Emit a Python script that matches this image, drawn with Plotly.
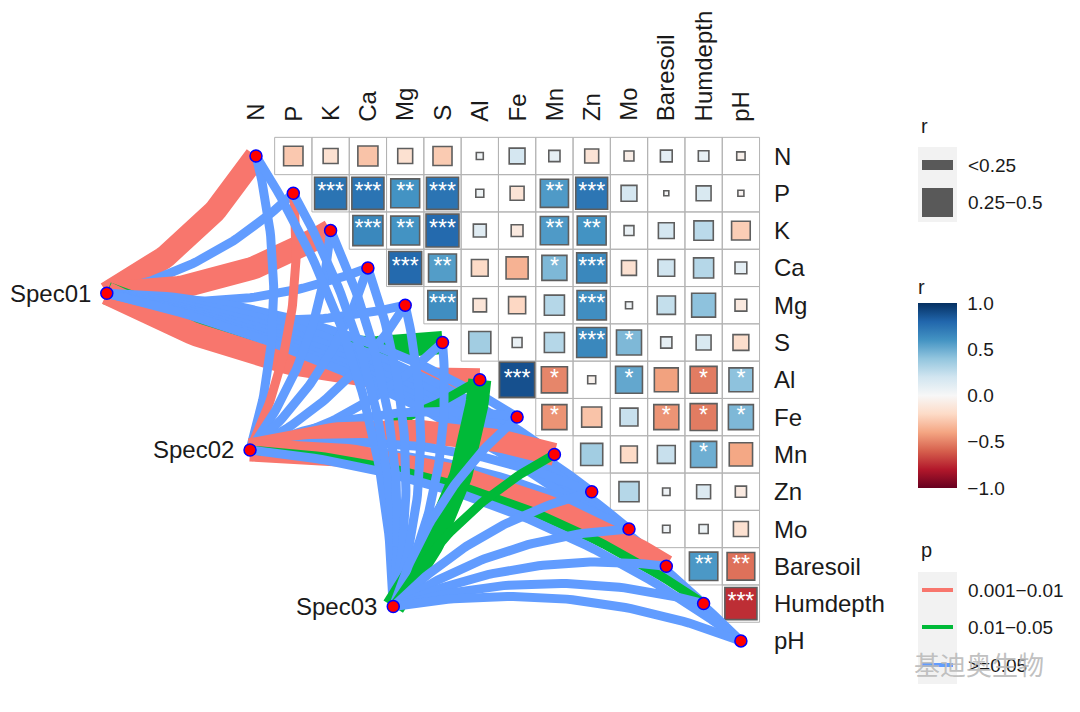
import numpy as np
import plotly.graph_objects as go

# ---------------- data ----------------
env_names = ["N", "P", "K", "Ca", "Mg", "S", "Al", "Fe", "Mn", "Zn", "Mo",
             "Baresoil", "Humdepth", "pH"]
spec_names = ["Spec01", "Spec02", "Spec03"]

# upper-triangle correlations: each row lists r with the variables after it
r_N = [-0.27, -0.16, -0.29, -0.16, -0.26, 0.035, 0.18, 0.09, -0.14, -0.07, 0.10, 0.08, -0.05]
r_P = [0.74, 0.74, 0.60, 0.74, 0.046, -0.14, 0.57, 0.73, 0.18, 0.018, 0.16, -0.026]
r_K = [0.65, 0.60, 0.78, 0.12, -0.10, 0.57, 0.60, 0.07, 0.18, 0.27, -0.25]
r_Ca = [0.78, 0.56, -0.20, -0.35, 0.45, 0.65, -0.16, 0.20, 0.29, 0.10]
r_Mg = [0.62, -0.13, -0.21, 0.29, 0.62, 0.035, 0.24, 0.41, -0.10]
r_S = [0.35, 0.07, 0.29, 0.65, 0.45, 0.09, 0.16, -0.18]
r_Al = [0.88, -0.49, -0.046, 0.52, -0.41, -0.52, 0.41]
r_Fe = [-0.45, -0.29, 0.23, -0.45, -0.52, 0.45]
r_Mn = [0.35, -0.20, 0.23, 0.49, -0.39]
r_Zn = [0.29, 0.04, 0.14, -0.09]
r_Mo = [0.04, 0.06, -0.16]
r_Baresoil = [0.58, -0.55]
r_Humdepth = [-0.74]

s_N = [""] * 13
s_P = ["***", "***", "**", "***", "", "", "**", "***", "", "", "", ""]
s_K = ["***", "**", "***", "", "", "**", "**", "", "", "", ""]
s_Ca = ["***", "**", "", "", "*", "***", "", "", "", ""]
s_Mg = ["***", "", "", "", "***", "", "", "", ""]
s_S = ["", "", "", "***", "*", "", "", ""]
s_Al = ["***", "*", "", "*", "", "*", "*"]
s_Fe = ["*", "", "", "*", "*", "*"]
s_Mn = ["", "", "", "*", ""]
s_Zn = ["", "", "", ""]
s_Mo = ["", "", ""]
s_Baresoil = ["**", "**"]
s_Humdepth = ["***"]

corr_rows = [r_N, r_P, r_K, r_Ca, r_Mg, r_S, r_Al, r_Fe, r_Mn, r_Zn, r_Mo, r_Baresoil, r_Humdepth]
star_rows = [s_N, s_P, s_K, s_Ca, s_Mg, s_S, s_Al, s_Fe, s_Mn, s_Zn, s_Mo, s_Baresoil, s_Humdepth]

# Mantel test classes (one entry per env variable)
p_Spec01 = ["0.001-0.01", ">=0.05", "0.001-0.01", ">=0.05", ">=0.05", "0.01-0.05", "0.001-0.01",
            ">=0.05", ">=0.05", ">=0.05", ">=0.05", ">=0.05", ">=0.05", ">=0.05"]
rc_Spec01 = ["0.25-0.5", "<0.25", "0.25-0.5", "<0.25", "<0.25", "0.25-0.5", "0.25-0.5",
             "<0.25", "<0.25", "<0.25", "<0.25", "<0.25", "<0.25", "<0.25"]
p_Spec02 = [">=0.05", "0.001-0.01", ">=0.05", ">=0.05", ">=0.05", ">=0.05", "0.01-0.05",
            ">=0.05", "0.001-0.01", ">=0.05", ">=0.05", "0.001-0.01", "0.01-0.05", ">=0.05"]
rc_Spec02 = ["<0.25", "<0.25", "<0.25", "<0.25", "<0.25", "<0.25", "<0.25",
             "<0.25", "0.25-0.5", "<0.25", "<0.25", "0.25-0.5", "<0.25", "<0.25"]
p_Spec03 = [">=0.05", ">=0.05", ">=0.05", ">=0.05", ">=0.05", ">=0.05", "0.01-0.05",
            ">=0.05", "0.01-0.05", ">=0.05", ">=0.05", ">=0.05", ">=0.05", ">=0.05"]
rc_Spec03 = ["<0.25", "<0.25", "<0.25", "<0.25", "<0.25", "<0.25", "0.25-0.5",
             "<0.25", "<0.25", "<0.25", "<0.25", "<0.25", "<0.25", "<0.25"]
mantel_p = [p_Spec01, p_Spec02, p_Spec03]
mantel_r = [rc_Spec01, rc_Spec02, rc_Spec03]

# ---------------- style / layout ----------------
W, H = 1080, 712
SHIFT = 8                      # page body margin compensation
PX = 37.3                      # pixels per cell
X0, Y0 = 256 - SHIFT, 156 - SHIFT   # pixel position of the first diagonal cell
FONT = "Liberation Sans, Arial, sans-serif"
rdbu = ['#67001F', '#B2182B', '#D6604D', '#F4A582', '#FDDBC7', '#F7F7F7',
        '#D1E5F0', '#92C5DE', '#4393C3', '#2166AC', '#053061']
p_colors = {"0.001-0.01": "#F8766D", "0.01-0.05": "#00BA38", ">=0.05": "#619CFF"}
r_widths = {"<0.25": 9, "0.25-0.5": 23}
CURV = 0.14
spec_start = (-4.0, 3.68)
spec_end = (3.68, 12.08)


def hex2rgb(h):
    h = h.lstrip('#')
    return np.array([int(h[k:k + 2], 16) for k in (0, 2, 4)], dtype=float)


def rcolor(v):
    pos = (v + 1) / 2 * (len(rdbu) - 1)
    i = int(np.clip(np.floor(pos), 0, len(rdbu) - 2))
    f = pos - i
    c = hex2rgb(rdbu[i]) * (1 - f) + hex2rgb(rdbu[i + 1]) * f
    return "rgb(%d,%d,%d)" % tuple(np.round(c))


n = len(env_names)
fig = go.Figure()
shapes = []
annotations = []

# grid + squares
sq_x, sq_y, sq_r, sq_txt = [], [], [], []
for i, (row, srow) in enumerate(zip(corr_rows, star_rows)):
    for k, (v, st) in enumerate(zip(row, srow)):
        j = i + 1 + k
        shapes.append(dict(type="rect", xref="x", yref="y", x0=j - 0.5, x1=j + 0.5,
                           y0=i - 0.5, y1=i + 0.5, line=dict(color="#B3B3B3", width=1),
                           fillcolor="rgba(0,0,0,0)", layer="below"))
        sq_x.append(j); sq_y.append(i); sq_r.append(v); sq_txt.append(st)
for j, i, v in zip(sq_x, sq_y, sq_r):
    s = np.sqrt(abs(v)) / 2
    shapes.append(dict(type="rect", xref="x", yref="y", x0=j - s, x1=j + s,
                       y0=i - s, y1=i + s, line=dict(color="#5E5E5E", width=1.6),
                       fillcolor=rcolor(v), layer="below"))

# colorbar carrier
fig.add_trace(go.Scatter(
    x=sq_x, y=sq_y, mode="markers", hoverinfo="skip", showlegend=False,
    marker=dict(size=1, opacity=0, color=sq_r, cmin=-1, cmax=1,
                colorscale=[[k / 10, c] for k, c in enumerate(rdbu)],
                showscale=True,
                colorbar=dict(x=(918 - SHIFT) / W, xanchor="left", xpad=0,
                              y=1 - (382 - SHIFT) / H, yanchor="middle", ypad=0,
                              len=212, lenmode="pixels", thickness=39,
                              outlinewidth=0, ticks="outside", ticklen=7,
                              tickcolor="rgba(255,255,255,0)", tickwidth=1,
                              tickvals=[-1, -0.5, 0, 0.5, 1],
                              ticktext=["\u22121.0", "\u22120.5", "0.0", "0.5", "1.0"],
                              tickfont=dict(size=19, color="#1a1a1a", family=FONT),
                              title=dict(text="r", side="top",
                                         font=dict(size=20, color="#1a1a1a", family=FONT))))))

# stars
fig.add_trace(go.Scatter(x=sq_x, y=sq_y, text=sq_txt, mode="text", hoverinfo="skip",
                         showlegend=False,
                         textfont=dict(color="white", size=23, family=FONT)))

# Mantel links
sx = np.linspace(spec_start[0], spec_end[0], len(spec_names))
sy = np.linspace(spec_start[1], spec_end[1], len(spec_names))
t = np.linspace(0, 1, 60)
for si in range(len(spec_names)):
    for ei in range(n):
        p0 = np.array([sx[si], sy[si]])
        p2 = np.array([ei, ei], dtype=float)
        d = p2 - p0
        sign = 1 if ei <= (n - 1) / 2 else -1
        c = (p0 + p2) / 2 + sign * CURV * np.array([-d[1], d[0]])
        pts = ((1 - t)[:, None] ** 2) * p0 + (2 * (1 - t) * t)[:, None] * c + (t[:, None] ** 2) * p2
        fig.add_trace(go.Scatter(
            x=pts[:, 0], y=pts[:, 1], mode="lines", hoverinfo="skip", showlegend=False,
            line=dict(color=p_colors[mantel_p[si][ei]], width=r_widths[mantel_r[si][ei]])))

# nodes
fig.add_trace(go.Scatter(
    x=list(range(n)) + list(sx), y=list(range(n)) + list(sy), mode="markers",
    hoverinfo="skip", showlegend=False,
    marker=dict(size=12, color="#FF0000", line=dict(color="#0000FF", width=1.5))))

# labels
AX = dict(size=24, color="#1a1a1a", family=FONT)
for j, name in enumerate(env_names):
    annotations.append(dict(x=j, y=-0.5, xref="x", yref="y", text=name, textangle=-90,
                            xanchor="center", yanchor="bottom", yshift=14,
                            showarrow=False, font=AX))
    annotations.append(dict(x=n - 0.5, y=j, xref="x", yref="y", text=name,
                            xanchor="left", yanchor="middle", xshift=12,
                            showarrow=False, font=AX))
for k, name in enumerate(spec_names):
    annotations.append(dict(x=sx[k], y=sy[k], xref="x", yref="y", text=name,
                            xanchor="right", yanchor="middle", xshift=-14,
                            showarrow=False, font=AX))


# legends (reference pixel positions converted to paper)
def px(xp):
    return (xp - SHIFT) / W


def py(yp):
    return 1 - (yp - SHIFT) / H


LG = dict(size=19, color="#1a1a1a", family=FONT)
# size legend
annotations.append(dict(x=px(919), y=py(126), xref="paper", yref="paper", text="r",
                        xanchor="left", yanchor="middle", showarrow=False,
                        font=dict(size=20, color="#1a1a1a", family=FONT)))
shapes.append(dict(type="rect", xref="paper", yref="paper", x0=px(918), x1=px(957),
                   y0=py(147), y1=py(222), fillcolor="#F2F2F2", line=dict(width=0)))
size_labels = ["<0.25", "0.25\u22120.5"]
for lab, (y0b, y1b, yt) in zip(size_labels, [(160, 170, 165), (188, 217, 202)]):
    shapes.append(dict(type="rect", xref="paper", yref="paper", x0=px(922), x1=px(953),
                       y0=py(y0b), y1=py(y1b), fillcolor="#595959", line=dict(width=0)))
    annotations.append(dict(x=px(966), y=py(yt), xref="paper", yref="paper", text=lab,
                            xanchor="left", yanchor="middle", showarrow=False, font=LG))
# p legend
annotations.append(dict(x=px(919), y=py(550), xref="paper", yref="paper", text="p",
                        xanchor="left", yanchor="middle", showarrow=False,
                        font=dict(size=20, color="#1a1a1a", family=FONT)))
shapes.append(dict(type="rect", xref="paper", yref="paper", x0=px(918), x1=px(957),
                   y0=py(572), y1=py(684), fillcolor="#F2F2F2", line=dict(width=0)))
p_labels = ["0.001\u22120.01", "0.01\u22120.05", ">=0.05"]
for lab, key, yk in zip(p_labels, ["0.001-0.01", "0.01-0.05", ">=0.05"], [590, 627, 665]):
    shapes.append(dict(type="line", xref="paper", yref="paper", x0=px(922), x1=px(953),
                       y0=py(yk), y1=py(yk), line=dict(color=p_colors[key], width=4)))
    annotations.append(dict(x=px(966), y=py(yk), xref="paper", yref="paper", text=lab,
                            xanchor="left", yanchor="middle", showarrow=False, font=LG))

# watermark
annotations.append(dict(x=px(979), y=py(663), xref="paper", yref="paper", text="基迪奥生物",
                        xanchor="center", yanchor="middle", showarrow=False,
                        font=dict(size=26, color="rgba(185,185,185,0.9)",
                                  family="Noto Sans CJK SC")))

fig.update_layout(
    width=W, height=H, margin=dict(l=0, r=0, t=0, b=0),
    paper_bgcolor="white", plot_bgcolor="white", showlegend=False,
    xaxis=dict(range=[-X0 / PX, (W - X0) / PX], visible=False, fixedrange=True),
    yaxis=dict(range=[(H - Y0) / PX, -Y0 / PX], visible=False, fixedrange=True),
    shapes=shapes, annotations=annotations, font=dict(family=FONT))

fig.write_html("out.html")
